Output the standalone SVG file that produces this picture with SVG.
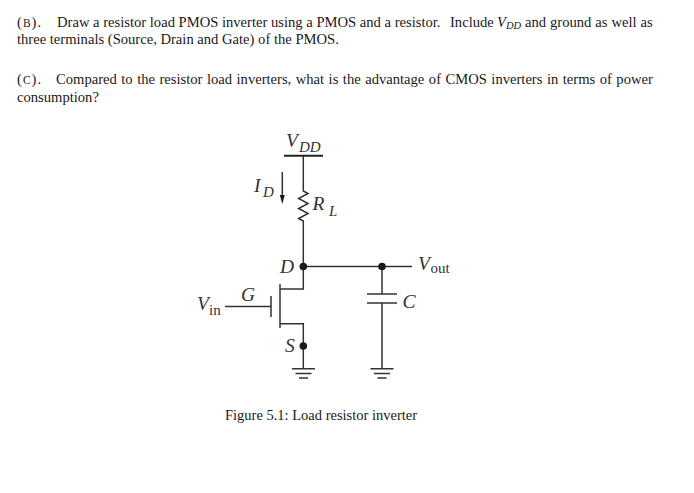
<svg xmlns="http://www.w3.org/2000/svg" width="694" height="493" viewBox="0 0 694 493">
<style>
text{font-family:"Liberation Serif","Times New Roman",serif;fill:#1a1a1a}
.b{font-size:14.6px}
.l{letter-spacing:1px}
.sc{font-size:11.5px}
.i{font-style:italic}
.c{font-size:19.5px;fill:#333}
.s{font-size:15px;fill:#333}
.w{fill:none;stroke:#333;stroke-width:1.5}
.d{fill:#1a1a1a}
</style>
<rect width="694" height="493" fill="#fff"/>
<g id="question-text">
<text class="b" y="26.7"><tspan x="17" class="l">(<tspan class="sc">B</tspan>).</tspan><tspan x="57">Draw a resistor load PMOS inverter using a PMOS and a resistor.</tspan><tspan x="450">Include </tspan><tspan class="i" x="497">V</tspan><tspan class="i" font-size="10.5" dy="2">DD</tspan><tspan dy="-2" x="525" word-spacing="0.3">and ground as well as</tspan></text>
<text class="b" x="17" y="44.3">three terminals (Source, Drain and Gate) of the PMOS.</text>
<text class="b" y="84"><tspan x="17" class="l">(<tspan class="sc">C</tspan>).</tspan><tspan x="56" word-spacing="0.85">Compared to the resistor load inverters, what is the advantage of CMOS inverters in terms of power</tspan></text>
<text class="b" x="17" y="101.7">consumption?</text>
</g>
<g id="connectors">
<path class="w" d="M303.3 156V191l4.7 2.5-9.4 5 9.4 5-9.4 5 9.4 5-9.4 5 4.7 2.5V289H280M303.3 266.500H412M382 266.500V294M382 303V369M271 306.500H225M280 323.700H303.300V369"/>
<path d="M282.300 172V197" class="w"/>
<path d="M279.800 195h5l-2.500 9z" class="d"/>
</g>
<g id="vdd"><path d="M284 155.700H323" fill="none" stroke="#222" stroke-width="2"/>
<text class="c i" x="286" y="147">V</text><text class="s i" x="299" y="152">DD</text></g>
<g id="id-label"><text class="c i" x="254" y="192">I</text><text class="s i" x="263" y="197">D</text></g>
<g id="rl"><text class="c i" x="312.500" y="210">R</text><text class="s i" x="329" y="216">L</text></g>
<g id="drain"><circle class="d" cx="303.300" cy="266.500" r="3.800"/><text class="c i" x="280" y="273">D</text></g>
<g id="vout-node"><circle class="d" cx="382" cy="266.500" r="3.800"/><text class="c i" x="418" y="270">V</text><text class="s" x="430.500" y="273">out</text></g>
<g id="pmos"><path class="w" d="M280 284V328M271 296V317"/></g>
<g id="gate"><text class="c i" x="241" y="301">G</text></g>
<g id="vin"><text class="c i" x="197" y="310">V</text><text class="s" x="209" y="315">in</text></g>
<g id="source"><circle class="d" cx="303.300" cy="346" r="3.800"/><text class="c i" x="285" y="352">S</text></g>
<g id="capacitor"><path class="w" d="M367 294H397M367 303H397"/><text class="c i" x="402.500" y="308">C</text></g>
<g id="ground-1"><path class="w" d="M292 368.700H315M295.500 373.500H311.500M299 378H308"/></g>
<g id="ground-2"><path class="w" d="M370.500 368.700H393.500M374 373.500H390M377.500 378H386.500"/></g>
<g id="caption"><text x="225" y="420" font-size="14.5">Figure 5.1: Load resistor inverter</text></g>
</svg>
